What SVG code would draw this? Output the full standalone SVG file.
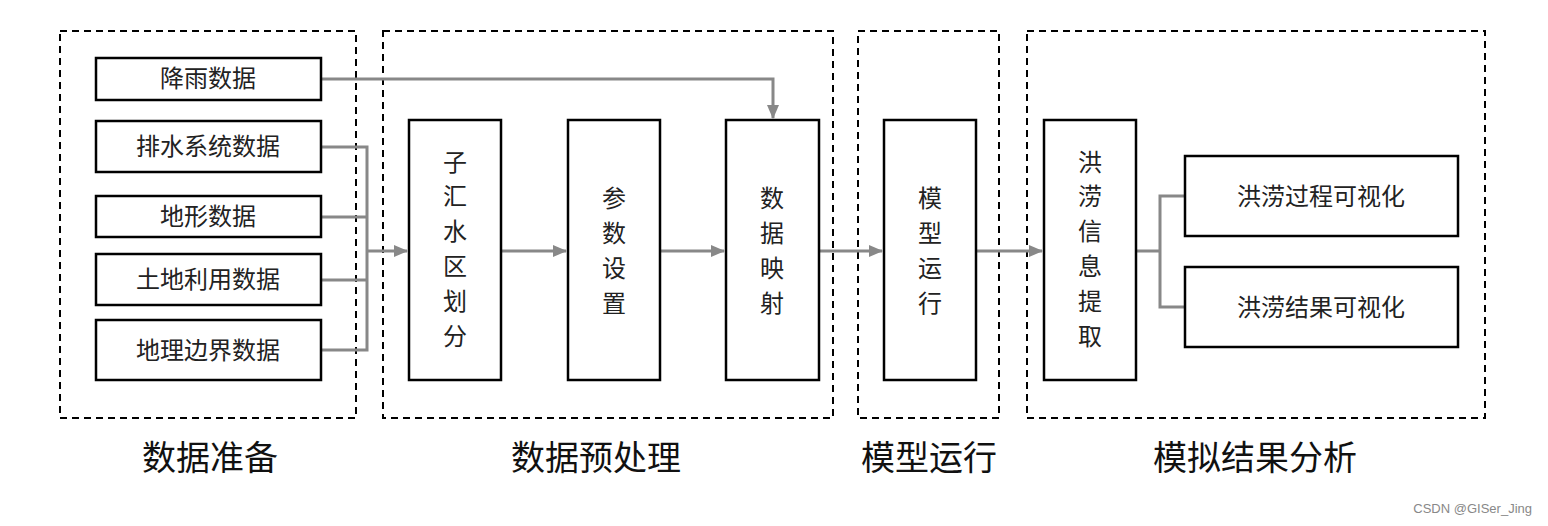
<svg xmlns="http://www.w3.org/2000/svg" width="1548" height="526" viewBox="0 0 1548 526">
<style>
.g{fill:none;stroke:#000;stroke-width:2;stroke-dasharray:7,5}
.b{fill:#fff;stroke:#000;stroke-width:2.5}
.t{font-family:"Noto Sans CJK SC",sans-serif;font-size:24px;fill:#222;text-anchor:middle}
.l{font-family:"Noto Sans CJK SC",sans-serif;font-size:34px;fill:#111;text-anchor:middle}
.c{fill:none;stroke:#888;stroke-width:3}
</style>
<defs><marker id="a" markerWidth="14" markerHeight="12" refX="13" refY="6" orient="auto" markerUnits="userSpaceOnUse" viewBox="0 0 14 12"><path d="M0,0L14,6L0,12z" fill="#888"/></marker></defs>
<rect width="1548" height="526" fill="#fff"/>
<g id="groups">
<rect class="g" x="60" y="31" width="296" height="387"/>
<rect class="g" x="383" y="31" width="450" height="387"/>
<rect class="g" x="858" y="31" width="141" height="387"/>
<rect class="g" x="1027" y="31" width="458" height="387"/>
<text class="l" x="210" y="470">数据准备</text>
<text class="l" x="596" y="470">数据预处理</text>
<text class="l" x="929" y="470">模型运行</text>
<text class="l" x="1255" y="470">模拟结果分析</text>
</g>
<g id="connectors">
<path class="c" d="M321,79H773V118" marker-end="url(#a)"/>
<path class="c" d="M321,147H367V350H321M321,217H367M321,280H367"/>
<path class="c" d="M367,251H407" marker-end="url(#a)"/>
<path class="c" d="M501,251H566" marker-end="url(#a)"/>
<path class="c" d="M660,251H724" marker-end="url(#a)"/>
<path class="c" d="M819,251H882" marker-end="url(#a)"/>
<path class="c" d="M976,251H1042" marker-end="url(#a)"/>
<path class="c" d="M1136,251H1160M1185,196H1160V307H1185"/>
</g>
<g id="n1"><rect class="b" x="96" y="58" width="225" height="42"/><text class="t" x="208" y="87">降雨数据</text></g>
<g id="n2"><rect class="b" x="96" y="121" width="225" height="51"/><text class="t" x="208" y="155">排水系统数据</text></g>
<g id="n3"><rect class="b" x="96" y="196" width="225" height="41"/><text class="t" x="208" y="225">地形数据</text></g>
<g id="n4"><rect class="b" x="96" y="254" width="225" height="51"/><text class="t" x="208" y="288">土地利用数据</text></g>
<g id="n5"><rect class="b" x="96" y="320" width="225" height="60"/><text class="t" x="208" y="359">地理边界数据</text></g>
<g id="n6"><rect class="b" x="409" y="120" width="92" height="260"/><text class="t" x="455" y="171">子</text><text class="t" x="455" y="205">汇</text><text class="t" x="455" y="240">水</text><text class="t" x="455" y="275">区</text><text class="t" x="455" y="310">划</text><text class="t" x="455" y="345">分</text></g>
<g id="n7"><rect class="b" x="568" y="120" width="92" height="260"/><text class="t" x="614" y="207">参</text><text class="t" x="614" y="242">数</text><text class="t" x="614" y="277">设</text><text class="t" x="614" y="312">置</text></g>
<g id="n8"><rect class="b" x="726" y="120" width="93" height="260"/><text class="t" x="772" y="207">数</text><text class="t" x="772" y="242">据</text><text class="t" x="772" y="277">映</text><text class="t" x="772" y="312">射</text></g>
<g id="n9"><rect class="b" x="884" y="120" width="92" height="260"/><text class="t" x="930" y="207">模</text><text class="t" x="930" y="242">型</text><text class="t" x="930" y="277">运</text><text class="t" x="930" y="312">行</text></g>
<g id="n10"><rect class="b" x="1044" y="120" width="92" height="260"/><text class="t" x="1090" y="171">洪</text><text class="t" x="1090" y="205">涝</text><text class="t" x="1090" y="240">信</text><text class="t" x="1090" y="275">息</text><text class="t" x="1090" y="310">提</text><text class="t" x="1090" y="345">取</text></g>
<g id="n11"><rect class="b" x="1185" y="156" width="273" height="80"/><text class="t" x="1321" y="205">洪涝过程可视化</text></g>
<g id="n12"><rect class="b" x="1185" y="267" width="273" height="80"/><text class="t" x="1321" y="316">洪涝结果可视化</text></g>
<text x="1532" y="513" font-family="Liberation Sans,sans-serif" font-size="13" fill="#888" text-anchor="end">CSDN @GISer_Jing</text>
</svg>
